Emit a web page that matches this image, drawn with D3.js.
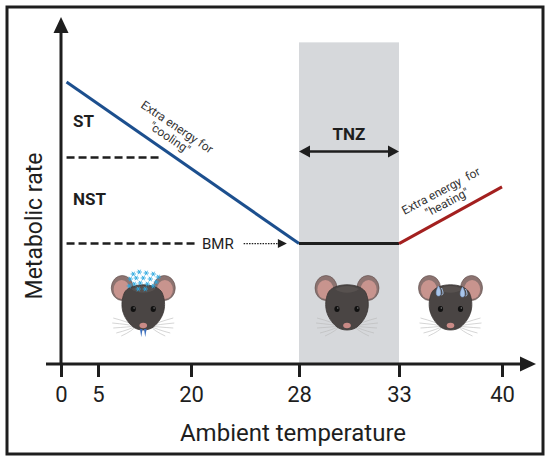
<!DOCTYPE html>
<html>
<head>
<meta charset="utf-8">
<script src="https://cdn.jsdelivr.net/npm/d3@7"></script>
<style>
  html, body { margin: 0; padding: 0; background: #fff; }
  svg { display: block; font-family: Roboto, "Noto Sans", sans-serif; }
</style>
</head>
<body>
<svg id="chart" width="550" height="462"></svg>
<script>
// ---------- data ----------
const tickTemps = [0, 5, 20, 28, 33, 40];            // x tick labels (non-linear axis)
const tnzRange = [28, 33];                           // thermoneutral zone
const coolingTemps = [0.75, 28];  const coolingRates = [82, 35];
const neutralTemps = [28, 33];    const neutralRates = [35, 35];
const heatingTemps = [33, 40];    const heatingRates = [35, 51.5];
const stLevel = 60;  const stEndTemp = 15;           // ST / NST boundary
const bmrLevel = 35; const bmrDashEnd = 20.4;
const bmrArrowTemps = [23.9, 27.1];
const tnzArrowLevel = 61.8;
const bandTop = 93.5;
const mouseTemps = [12.3, 30.4, 36.5];
const mouseKinds = ["cold", "neutral", "hot"];

// ---------- layout ----------
const svg = d3.select("#chart");
const x = d3.scaleLinear().domain(tickTemps).range([61, 98, 191, 299, 399, 502]);
const y = d3.scaleLinear().domain([0, 100]).range([364, 20]);
const ink = "#1e1e1e";

// frame
svg.append("rect").attr("x", 7).attr("y", 7).attr("width", 536).attr("height", 447)
  .attr("fill", "none").attr("stroke", ink).attr("stroke-width", 3);

// TNZ band
svg.append("rect")
  .attr("x", x(tnzRange[0])).attr("y", y(bandTop))
  .attr("width", x(tnzRange[1]) - x(tnzRange[0]))
  .attr("height", y(0) - y(bandTop))
  .attr("fill", "#d6d8db");

// ---------- axes ----------
const xAxis = d3.axisBottom(x).tickValues(tickTemps).tickSize(13).tickPadding(9)
  .tickFormat(d3.format("d"));
const gx = svg.append("g").attr("transform", `translate(0,${y(0)})`).call(xAxis);
gx.select(".domain").remove();
gx.selectAll(".tick line").attr("stroke", ink).attr("stroke-width", 3);
gx.selectAll(".tick text").attr("fill", ink).attr("font-size", 22)
  .attr("font-family", "Roboto").attr("dy", "0.72em");

// x axis line + arrow
svg.append("line").attr("x1", 46).attr("x2", 522).attr("y1", y(0)).attr("y2", y(0))
  .attr("stroke", ink).attr("stroke-width", 3);
svg.append("path").attr("d", `M520,${y(0)-7.5} L536,${y(0)} L520,${y(0)+7.5} Z`).attr("fill", ink);
// y axis line + arrow
svg.append("line").attr("x1", x(0)).attr("x2", x(0)).attr("y1", y(0)).attr("y2", 30)
  .attr("stroke", ink).attr("stroke-width", 3);
svg.append("path").attr("d", `M${x(0)-7.5},33 L${x(0)},17 L${x(0)+7.5},33 Z`).attr("fill", ink);

// axis titles
svg.append("text").attr("x", 293).attr("y", 441).attr("text-anchor", "middle")
  .attr("font-size", 24).attr("fill", ink).text("Ambient temperature");
svg.append("text").attr("transform", "translate(42,226) rotate(-90)")
  .attr("text-anchor", "middle").attr("font-size", 23).attr("fill", ink).text("Metabolic rate");

// ---------- dashed reference lines ----------
svg.append("line").attr("x1", x(coolingTemps[0])).attr("x2", x(stEndTemp))
  .attr("y1", y(stLevel)).attr("y2", y(stLevel))
  .attr("stroke", ink).attr("stroke-width", 2.5).attr("stroke-dasharray", "8,4");
svg.append("line").attr("x1", x(coolingTemps[0])).attr("x2", x(bmrDashEnd))
  .attr("y1", y(bmrLevel)).attr("y2", y(bmrLevel))
  .attr("stroke", ink).attr("stroke-width", 2.5).attr("stroke-dasharray", "8,4");
svg.append("text").attr("x", 202).attr("y", y(bmrLevel) + 5).attr("font-size", 15)
  .attr("fill", ink).text("BMR");
svg.append("line").attr("x1", x(bmrArrowTemps[0])).attr("x2", x(bmrArrowTemps[1]) - 8)
  .attr("y1", y(bmrLevel)).attr("y2", y(bmrLevel))
  .attr("stroke", ink).attr("stroke-width", 1.4).attr("stroke-dasharray", "1.5,1.2");
svg.append("path").attr("d", `M${x(bmrArrowTemps[1]) - 9},${y(bmrLevel) - 4.5} L${x(bmrArrowTemps[1])},${y(bmrLevel)} L${x(bmrArrowTemps[1]) - 9},${y(bmrLevel) + 4.5} Z`)
  .attr("fill", ink);

// ---------- metabolic rate curve ----------
const line = d3.line().x(d => x(d[0])).y(d => y(d[1]));
const segs = [
  {t: coolingTemps, r: coolingRates, c: "#1c4f8e"},
  {t: neutralTemps, r: neutralRates, c: "#1e1e1e"},
  {t: heatingTemps, r: heatingRates, c: "#a3201f"}
];
segs.forEach(s => {
  svg.append("path").attr("d", line(d3.zip(s.t, s.r)))
    .attr("fill", "none").attr("stroke", s.c).attr("stroke-width", 3);
});

// ---------- labels ----------
svg.append("text").attr("x", 73).attr("y", 127).attr("font-size", 17).attr("font-weight", "bold")
  .attr("fill", ink).text("ST");
svg.append("text").attr("x", 73).attr("y", 205).attr("font-size", 17).attr("font-weight", "bold")
  .attr("fill", ink).text("NST");
svg.append("text").attr("x", (x(tnzRange[0]) + x(tnzRange[1])) / 2).attr("y", 140)
  .attr("text-anchor", "middle").attr("font-size", 17).attr("font-weight", "bold")
  .attr("fill", ink).text("TNZ");

// TNZ double arrow
const ay = y(tnzArrowLevel), ax0 = x(tnzRange[0]), ax1 = x(tnzRange[1]);
svg.append("line").attr("x1", ax0 + 8).attr("x2", ax1 - 8).attr("y1", ay).attr("y2", ay)
  .attr("stroke", ink).attr("stroke-width", 2.5);
svg.append("path").attr("d", `M${ax0},${ay} L${ax0 + 11},${ay - 6} L${ax0 + 11},${ay + 6} Z`).attr("fill", ink);
svg.append("path").attr("d", `M${ax1},${ay} L${ax1 - 11},${ay - 6} L${ax1 - 11},${ay + 6} Z`).attr("fill", ink);

// rotated annotations
const cool = svg.append("g").attr("transform", "translate(177,127) rotate(34)")
  .attr("font-size", 12).attr("fill", "#333").attr("text-anchor", "middle");
cool.append("text").attr("y", 4).text("Extra energy for");
cool.append("text").attr("y", 17).text("\"cooling\"");
const heat = svg.append("g").attr("transform", "translate(441,191) rotate(-28)")
  .attr("font-size", 12).attr("fill", "#333").attr("text-anchor", "middle");
heat.append("text").attr("y", 4).style("white-space", "pre").text("Extra energy  for");
heat.append("text").attr("y", 17).text("\"heating\"");

// ---------- mice ----------
function drawMouse(cx, kind) {
  const g = svg.append("g").attr("transform", `translate(${cx},0)`);
  // whiskers
  const wk = g.append("g").attr("stroke", "#b9b9b9").attr("stroke-width", 0.6).attr("fill", "none");
  [[-30, 318], [-31, 323], [-30, 328], [-27, 333], [-22, 336]].forEach(([dx, yy]) => {
    wk.append("path").attr("d", `M-7,326 Q${dx * 0.5},${(yy + 326) / 2} ${dx},${yy}`);
    wk.append("path").attr("d", `M7,326 Q${-dx * 0.5},${(yy + 326) / 2} ${-dx},${yy}`);
  });
  // ears
  [-21, 21].forEach(dx => {
    g.append("ellipse").attr("cx", dx).attr("cy", 288).attr("rx", 11).attr("ry", 12.5)
      .attr("fill", "#8c7370").attr("stroke", "#5b4a48").attr("stroke-width", 0.6);
    g.append("ellipse").attr("cx", dx * 1.03).attr("cy", 289.5).attr("rx", 8).attr("ry", 9.5)
      .attr("fill", "#c8948e");
  });
  // head
  g.append("path")
    .attr("d", "M-19,293 C-14,282 14,282 19,293 C24,305 21,318 10,327 C5,331 -5,331 -10,327 C-21,318 -24,305 -19,293 Z")
    .attr("fill", "#4a4544").attr("stroke", "#3a3534").attr("stroke-width", 0.8);
  g.append("path").attr("d", "M-12,289 C-4,285 4,285 12,289 C6,294 -6,294 -12,289 Z")
    .attr("fill", "#57514f");
  // eyes
  [-10, 10].forEach(dx => {
    g.append("ellipse").attr("cx", dx).attr("cy", 309).attr("rx", 2.6).attr("ry", 3)
      .attr("fill", "#111");
    g.append("circle").attr("cx", dx + 0.8).attr("cy", 308).attr("r", 0.7).attr("fill", "#888");
  });
  // nose
  g.append("ellipse").attr("cx", 0).attr("cy", 325.5).attr("rx", 3.8).attr("ry", 2.8)
    .attr("fill", "#c98a86");

  if (kind === "cold") {
    const flakes = [[-10, 274], [-4, 272], [3, 273], [10, 274], [15, 277], [-13, 279], [-7, 278],
                    [0, 278], [7, 279], [13, 282], [-9, 284], [-3, 283], [4, 284], [10, 286],
                    [-14, 286], [-5, 289], [2, 289]];
    const fg = g.append("g").attr("stroke", "#2aa7df").attr("stroke-width", 0.9);
    flakes.forEach(([fx, fy]) => {
      [0, 60, 120].forEach(a => {
        const r = 2.6, rad = a * Math.PI / 180;
        fg.append("line").attr("x1", fx - r * Math.cos(rad)).attr("y1", fy - r * Math.sin(rad))
          .attr("x2", fx + r * Math.cos(rad)).attr("y2", fy + r * Math.sin(rad));
      });
    });
    // icicles under nose
    [-2, 2].forEach(dx => {
      g.append("path").attr("d", `M${dx - 1.3},329 L${dx + 1.3},329 L${dx},337 Z`).attr("fill", "#3a6fbf");
    });
  }
  if (kind === "hot") {
    [[-12, 292], [12, 293]].forEach(([dx, dy]) => {
      g.append("path")
        .attr("d", `M${dx},${dy - 6} C${dx + 3},${dy - 1} ${dx + 3},${dy + 4} ${dx},${dy + 4} C${dx - 3},${dy + 4} ${dx - 3},${dy - 1} ${dx},${dy - 6} Z`)
        .attr("fill", "#a9c6ea").attr("stroke", "#7ea3d6").attr("stroke-width", 0.5);
      g.append("path")
        .attr("d", `M${dx + 3},${dy - 4} C${dx + 5},${dy} ${dx + 5},${dy + 3} ${dx + 3},${dy + 3}`)
        .attr("fill", "none").attr("stroke", "#a9c6ea").attr("stroke-width", 1);
    });
  }
}
mouseTemps.forEach((t, i) => drawMouse(x(t), mouseKinds[i]));
</script>
</body>
</html>
